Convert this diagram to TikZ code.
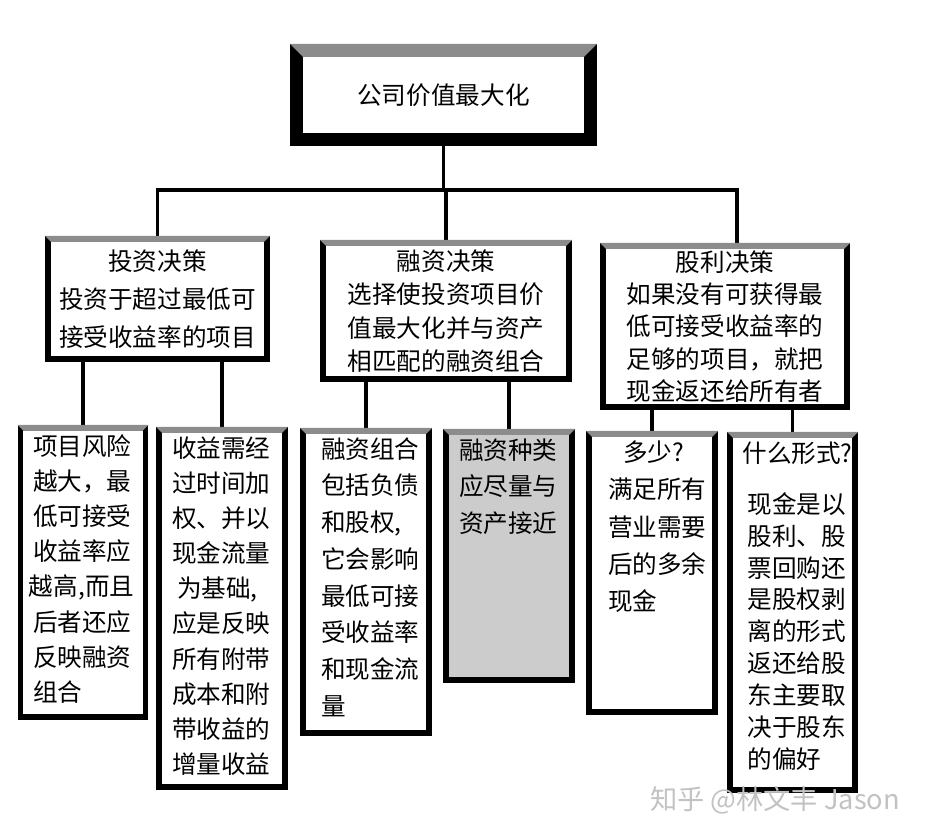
\documentclass[tikz,border=0pt]{standalone}
\usepackage{fontspec}
\usepackage{tikz}
\usetikzlibrary{positioning,calc}
\newfontfamily\cjk{Noto Sans CJK SC}
\definecolor{bevelgray}{gray}{0.55}
\definecolor{cellgray}{gray}{0.8}
\definecolor{markgray}{gray}{0.76}
\newcommand{\leaf}[2]{\parbox[t][#1][t]{2cm}{\raggedright #2}}

\begin{document}
\begin{tikzpicture}
  \tikzstyle{frame}=[draw,line width=3.4pt,fill=white,outer sep=0pt,font=\cjk\fontsize{14}{20}\selectfont]
  \tikzstyle{head}=[frame,align=center,inner sep=0pt]
  \tikzstyle{card}=[frame,anchor=north,inner xsep=0.25cm,inner ysep=0.13cm,minimum width=2.52cm]
  \tikzstyle{wire}=[line width=2.2pt]
  \tikzstyle{bevel}=[fill=bevelgray]
  \useasboundingbox (0,0) rectangle (18.52,16.76);

  \node[head,line width=7.4pt,minimum width=5.88cm,minimum height=1.78cm] (top) at (8.87,14.86) {公司价值最大化};
  \coordinate (bus) at (8.87,12.96);

  \node[head,minimum width=4.38cm,minimum height=2.4cm,font=\cjk\fontsize{14}{21.6}\selectfont] (inv) at (3.15,10.78) {投资决策\\投资于超过最低可\\接受收益率的项目};
  \node[head,minimum width=4.92cm,minimum height=2.72cm,font=\cjk\fontsize{14}{19}\selectfont] (fin) at (8.92,10.54) {融资决策\\选择使投资项目价\\值最大化并与资产\\相匹配的融资组合};
  \node[head,minimum width=4.88cm,minimum height=3.22cm,font=\cjk\fontsize{14}{18.3}\selectfont] (div) at (14.5,10.23) {股利决策\\如果没有可获得最\\低可接受收益率的\\足够的项目，就把\\现金返还给所有者};

  \node[card,minimum width=2.48cm] (risk) at (1.66,8.2) {\leaf{5.52cm}{项目风险\\越大，最\\低可接受\\收益率应\\\hspace*{-0.08cm}越高,而且\\后者还应\\反映融资\\组合}};
  \node[card] (cash) at (4.44,8.16) {\leaf{6.88cm}{收益需经\\过时间加\\权、并以\\现金流量\\\hspace*{0.1cm}为基础,\\应是反映\\所有附带\\成本和附\\带收益的\\增量收益}};
  \node[card,font=\cjk\fontsize{14}{20.9}\selectfont] (mix) at (7.32,8.14) {\leaf{5.78cm}{\leftskip=0.1cm 融资组合\\包括负债\\和股权,\\它会影响\\最低可接\\受收益率\\和现金流\\量}};
  \node[card,fill=cellgray,font=\cjk\fontsize{14}{20.9}\selectfont] (match) at (10.18,8.12) {\leaf{4.7cm}{融资种类\\应尽量与\\资产接近}};
  \node[card,font=\cjk\fontsize{14}{21.3}\selectfont] (much) at (13.04,8.08) {\leaf{5.3cm}{\leftskip=0.12cm \hspace*{0.3cm}多少?\\满足所有\\营业需要\\后的多余\\现金}};
  \node[card,minimum width=2.5cm,font=\cjk\fontsize{14}{18.2}\selectfont] (form) at (15.85,8.06) {\leaf{6.84cm}{什么形式?\par\vspace{0.38cm}\leftskip=0.1cm 现金是以\\股利、股\\票回购还\\是股权剥\\离的形式\\返还给股\\东主要取\\决于股东\\的偏好}};

  \draw[wire] (top.south) -- (bus);
  \draw[wire] (inv.north) |- (bus);
  \draw[wire] (fin.north) |- (bus);
  \draw[wire] ([xshift=0.24cm]div.north) |- (bus);
  \draw[wire] (risk.north) -- (risk.north |- inv.south);
  \draw[wire] (cash.north) -- (cash.north |- inv.south);
  \draw[wire] (mix.north) -- (mix.north |- fin.south);
  \draw[wire] (match.north) -- (match.north |- fin.south);
  \draw[wire] (much.north) -- (much.north |- div.south);
  \draw[wire] (form.north) -- (form.north |- div.south);

  \fill[bevel] ($(top.north west)+(-0.13,0.13)$) -- ($(top.north east)+(0.13,0.13)$) -- ($(top.north east)+(-0.13,-0.13)$) -- ($(top.north west)+(0.13,-0.13)$) -- cycle;
  \foreach \n in {inv,fin,div,risk,cash,mix,match,much,form}
    \fill[bevel] ($(\n.north west)+(-0.06,0.06)$) -- ($(\n.north east)+(0.06,0.06)$) -- ($(\n.north east)+(-0.06,-0.06)$) -- ($(\n.north west)+(0.06,-0.06)$) -- cycle;

  \node[font=\cjk\fontsize{15.5}{18}\selectfont,text=markgray] (mark) at (15.5,0.76) {知乎 @林文丰 Jason};
\end{tikzpicture}
\end{document}
